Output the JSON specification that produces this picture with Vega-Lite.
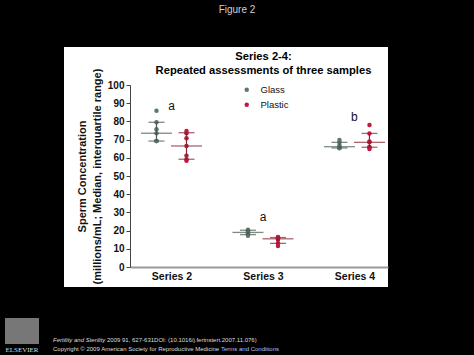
{
  "$schema": "https://vega.github.io/schema/vega-lite/v6.json",
  "width": 258,
  "height": 182,
  "autosize": {"type": "none"},
  "padding": {"left": 130, "top": 85, "right": 86, "bottom": 88},
  "background": "#000000",
  "config": {
    "view": {"stroke": null},
    "font": "Liberation Sans",
    "axisY": {"labelOverlap": false, "tickCount": 11, "labelFontSize": 10, "labelFontWeight": "bold", "labelColor": "#111111", "tickSize": 4, "tickColor": "#444444", "domainColor": "#444444", "grid": false, "labelPadding": 2}
  },
  "datasets": {
    "points": [
      {"series": "Series 2", "material": "Glass", "value": 85.9},
      {"series": "Series 2", "material": "Glass", "value": 79.5},
      {"series": "Series 2", "material": "Glass", "value": 75.7},
      {"series": "Series 2", "material": "Glass", "value": 73.5},
      {"series": "Series 2", "material": "Glass", "value": 69.2},
      {"series": "Series 2", "material": "Glass", "value": 69.2},
      {"series": "Series 2", "material": "Glass", "value": 69.2},
      {"series": "Series 2", "material": "Plastic", "value": 74.7},
      {"series": "Series 2", "material": "Plastic", "value": 73.5},
      {"series": "Series 2", "material": "Plastic", "value": 70.7},
      {"series": "Series 2", "material": "Plastic", "value": 66.5},
      {"series": "Series 2", "material": "Plastic", "value": 61.2},
      {"series": "Series 2", "material": "Plastic", "value": 59.2},
      {"series": "Series 2", "material": "Plastic", "value": 58.4},
      {"series": "Series 3", "material": "Glass", "value": 20.5},
      {"series": "Series 3", "material": "Glass", "value": 20.2},
      {"series": "Series 3", "material": "Glass", "value": 19.5},
      {"series": "Series 3", "material": "Glass", "value": 19.0},
      {"series": "Series 3", "material": "Glass", "value": 18.5},
      {"series": "Series 3", "material": "Glass", "value": 18.0},
      {"series": "Series 3", "material": "Glass", "value": 17.2},
      {"series": "Series 3", "material": "Plastic", "value": 16.5},
      {"series": "Series 3", "material": "Plastic", "value": 16.2},
      {"series": "Series 3", "material": "Plastic", "value": 15.8},
      {"series": "Series 3", "material": "Plastic", "value": 15.5},
      {"series": "Series 3", "material": "Plastic", "value": 15.0},
      {"series": "Series 3", "material": "Plastic", "value": 13.0},
      {"series": "Series 3", "material": "Plastic", "value": 11.5},
      {"series": "Series 4", "material": "Glass", "value": 69.8},
      {"series": "Series 4", "material": "Glass", "value": 68.5},
      {"series": "Series 4", "material": "Glass", "value": 67.0},
      {"series": "Series 4", "material": "Glass", "value": 66.1},
      {"series": "Series 4", "material": "Glass", "value": 65.5},
      {"series": "Series 4", "material": "Glass", "value": 65.4},
      {"series": "Series 4", "material": "Glass", "value": 65.3},
      {"series": "Series 4", "material": "Plastic", "value": 78.0},
      {"series": "Series 4", "material": "Plastic", "value": 73.4},
      {"series": "Series 4", "material": "Plastic", "value": 69.0},
      {"series": "Series 4", "material": "Plastic", "value": 68.5},
      {"series": "Series 4", "material": "Plastic", "value": 66.0},
      {"series": "Series 4", "material": "Plastic", "value": 65.8},
      {"series": "Series 4", "material": "Plastic", "value": 64.8}
    ],
    "summary": [
      {"series": "Series 2", "material": "Glass", "q1": 69.2, "median": 73.5, "q3": 79.5},
      {"series": "Series 2", "material": "Plastic", "q1": 59.2, "median": 66.5, "q3": 73.8},
      {"series": "Series 3", "material": "Glass", "q1": 17.8, "median": 19.0, "q3": 20.2},
      {"series": "Series 3", "material": "Plastic", "q1": 13.0, "median": 15.5, "q3": 16.2},
      {"series": "Series 4", "material": "Glass", "q1": 65.4, "median": 66.1, "q3": 68.5},
      {"series": "Series 4", "material": "Plastic", "q1": 65.8, "median": 68.5, "q3": 73.4}
    ],
    "letters": [
      {"series": "Series 2", "label": "a", "y": 88.5},
      {"series": "Series 3", "label": "a", "y": 27.3},
      {"series": "Series 4", "label": "b", "y": 82.4}
    ]
  },
  "layer": [
    {
      "data": {"values": [{}]},
      "layer": [
        {
          "mark": {"type": "rect", "fill": "#ffffff"},
          "encoding": {
            "x": {"datum": -0.2558, "type": "quantitative", "scale": {"domain": [0, 1], "nice": false, "zero": false}, "axis": null},
            "x2": {"datum": 1.0},
            "y": {"datum": -11, "type": "quantitative", "scale": {"domain": [0, 100], "nice": false, "zero": false}, "axis": null},
            "y2": {"datum": 120.9}
          }
        },
        {
          "mark": {"type": "rect", "fill": "#777777"},
          "encoding": {
            "x": {"datum": -0.4845, "type": "quantitative"},
            "x2": {"datum": -0.3527},
            "y": {"datum": -28.0, "type": "quantitative"},
            "y2": {"datum": -42.3}
          }
        },
        {
          "mark": {"type": "text", "text": "Figure 2", "fontSize": 10, "color": "#d0d0d0", "align": "center", "baseline": "middle", "font": "Liberation Sans"},
          "encoding": {"x": {"datum": 0.4147, "type": "quantitative"}, "y": {"datum": 141.2, "type": "quantitative"}}
        },
        {
          "mark": {"type": "text", "text": ["Series 2-4:", "Repeated assessments of three samples"], "lineHeight": 14, "fontSize": 11.2, "fontWeight": "bold", "color": "#000000", "align": "center", "baseline": "middle", "font": "Liberation Sans"},
          "encoding": {"x": {"datum": 0.5174, "type": "quantitative"}, "y": {"datum": 115.5, "type": "quantitative"}}
        },
        {
          "mark": {"type": "text", "text": "ELSEVIER", "fontSize": 7, "color": "#dddddd", "align": "center", "baseline": "middle", "font": "Liberation Serif"},
          "encoding": {"x": {"datum": -0.4186, "type": "quantitative"}, "y": {"datum": -45.6, "type": "quantitative"}}
        },
        {
          "mark": {"type": "text", "text": "Fertility and Sterility", "fontSize": 6, "fontStyle": "italic", "color": "#dddddd", "align": "left", "baseline": "middle", "font": "Liberation Sans"},
          "encoding": {"x": {"datum": -0.2984, "type": "quantitative"}, "y": {"datum": -40.1, "type": "quantitative"}}
        },
        {
          "mark": {"type": "text", "text": "2009 91, 627-631DOI: (10.1016/j.fertnstert.2007.11.076)", "fontSize": 6, "color": "#dddddd", "align": "left", "baseline": "middle", "font": "Liberation Sans"},
          "encoding": {"x": {"datum": -0.0891, "type": "quantitative"}, "y": {"datum": -40.1, "type": "quantitative"}}
        },
        {
          "mark": {"type": "text", "text": "Copyright © 2009 American Society for Reproductive Medicine", "fontSize": 6, "color": "#dddddd", "align": "left", "baseline": "middle", "font": "Liberation Sans"},
          "encoding": {"x": {"datum": -0.2984, "type": "quantitative"}, "y": {"datum": -45.05, "type": "quantitative"}}
        },
        {
          "mark": {"type": "text", "text": "Terms and Conditions", "fontSize": 6, "color": "#b8bcf0", "align": "left", "baseline": "middle", "font": "Liberation Sans"},
          "encoding": {"x": {"datum": 0.3527, "type": "quantitative"}, "y": {"datum": -45.05, "type": "quantitative"}}
        }
      ]
    },
    {
      "encoding": {
        "x": {
          "field": "series", "type": "nominal", "title": null,
          "scale": {"type": "point", "domain": ["Series 2", "Series 3", "Series 4"], "padding": 0.41, "align": 0.553},
          "axis": {"orient": "bottom", "zindex": 1, "ticks": false, "labelFontSize": 10.5, "labelFontWeight": "bold", "labelColor": "#111111", "labelPadding": 4, "domainColor": "#999999", "domainWidth": 2, "labelAngle": 0, "labelFont": "Liberation Sans"}
        },
        "xOffset": {"field": "material", "type": "nominal", "scale": {"type": "point", "domain": ["Glass", "Plastic"], "range": [-15, 15], "padding": 0}}
      },
      "layer": [
        {
          "data": {"name": "points"},
          "mark": {"type": "circle", "size": 20, "opacity": 1},
          "encoding": {
            "y": {
              "field": "value", "type": "quantitative",
              "scale": {"domain": [0, 100], "nice": false},
              "axis": {
                "orient": "left", "zindex": 1, "values": [0, 10, 20, 30, 40, 50, 60, 70, 80, 90, 100],
                "labelOverlap": false,
                "title": ["Sperm Concentration", "(millions/mL; Median, interquartile range)"],
                "titleFontSize": 11, "titleFontWeight": "bold", "titleColor": "#111111", "titlePadding": 5, "titleLineHeight": 15, "titleFont": "Liberation Sans"
              }
            },
            "color": {
              "field": "material", "type": "nominal",
              "scale": {"domain": ["Glass", "Plastic"], "range": ["#5c7a6a", "#c0183e"]},
              "legend": {
                "title": null, "orient": "none", "legendX": 112, "legendY": 0, "zindex": 2,
                "symbolType": "circle", "symbolSize": 20, "labelFontSize": 9.5, "labelFont": "Liberation Sans",
                "labelColor": "#111111", "rowPadding": 4, "labelOffset": 9
              }
            }
          }
        },
        {
          "data": {"name": "summary"},
          "mark": {"type": "rule", "strokeWidth": 1.2},
          "encoding": {
            "y": {"field": "q1", "type": "quantitative"},
            "y2": {"field": "q3"},
            "color": {"condition": {"test": "datum.material === 'Glass'", "value": "#4a5a52"}, "value": "#8a2232"}
          }
        },
        {
          "data": {"name": "summary"},
          "mark": {"type": "tick", "size": 31, "thickness": 1.3},
          "encoding": {
            "y": {"field": "median", "type": "quantitative"},
            "color": {"condition": {"test": "datum.material === 'Glass'", "value": "#4a5a52"}, "value": "#8a2232"}
          }
        },
        {
          "data": {"name": "summary"},
          "mark": {"type": "tick", "size": 16, "thickness": 1.3},
          "encoding": {
            "y": {"field": "q1", "type": "quantitative"},
            "color": {"condition": {"test": "datum.material === 'Glass'", "value": "#4a5a52"}, "value": "#8a2232"}
          }
        },
        {
          "data": {"name": "summary"},
          "mark": {"type": "tick", "size": 16, "thickness": 1.3},
          "encoding": {
            "y": {"field": "q3", "type": "quantitative"},
            "color": {"condition": {"test": "datum.material === 'Glass'", "value": "#4a5a52"}, "value": "#8a2232"}
          }
        },
        {
          "data": {"name": "letters"},
          "mark": {"type": "text", "fontSize": 12, "color": "#111111", "baseline": "middle", "align": "center", "font": "Liberation Sans"},
          "encoding": {
            "xOffset": null,
            "y": {"field": "y", "type": "quantitative"},
            "text": {"field": "label"}
          }
        }
      ]
    }
  ],
  "resolve": {"scale": {"x": "independent", "y": "independent"}}
}
